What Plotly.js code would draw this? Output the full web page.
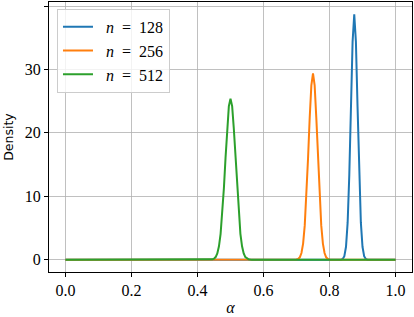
<!DOCTYPE html>
<html>
<head>
<meta charset="utf-8">
<script src="https://cdn.plot.ly/plotly-3.0.1.min.js"></script>
<style>html,body{margin:0;padding:0;background:#fff}#chart{width:414px;height:317px}</style>
</head>
<body>
<div id="chart"></div>
<script>
// n = 128
const x128 = [0, 0.835, 0.84, 0.845, 0.85, 0.855, 0.86, 0.865, 0.87, 0.875, 0.88, 0.885, 0.89, 0.895, 0.90, 0.905, 0.91, 0.915, 1];
const y128 = [0, 0, 0.12, 0.56, 2.04, 5.88, 13.4, 24.1, 34.4, 38.7, 34.4, 24.1, 13.4, 5.88, 2.04, 0.56, 0.12, 0, 0];
// n = 256
const x256 = [0, 0.695, 0.70, 0.705, 0.71, 0.715, 0.72, 0.725, 0.73, 0.735, 0.74, 0.745, 0.75, 0.755, 0.76, 0.765, 0.77, 0.775, 0.78, 0.785, 0.79, 0.795, 0.80, 0.805, 1];
const y256 = [0, 0, 0.03, 0.12, 0.38, 1.06, 2.55, 5.41, 9.94, 16.0, 22.4, 27.5, 29.4, 27.5, 22.4, 16.0, 9.94, 5.41, 2.55, 1.06, 0.38, 0.12, 0.03, 0, 0];
// n = 512
const x512 = [0, 0.435, 0.44, 0.445, 0.45, 0.455, 0.46, 0.465, 0.47, 0.475, 0.48, 0.485, 0.49, 0.495, 0.50, 0.505, 0.51, 0.515, 0.52, 0.525, 0.53, 0.535, 0.54, 0.545, 0.55, 0.555, 0.56, 0.565, 1];
const y512 = [0, 0, 0.02, 0.06, 0.16, 0.42, 0.99, 2.12, 4.09, 7.16, 11.3, 16.1, 20.7, 24.2, 25.4, 24.2, 20.7, 16.1, 11.3, 7.16, 4.09, 2.12, 0.99, 0.42, 0.16, 0.06, 0.02, 0, 0];

const seriesNames = ['&nbsp;&nbsp;<i>n</i>&nbsp;&nbsp;=&nbsp;&nbsp;128', '&nbsp;&nbsp;<i>n</i>&nbsp;&nbsp;=&nbsp;&nbsp;256', '&nbsp;&nbsp;<i>n</i>&nbsp;&nbsp;=&nbsp;&nbsp;512'];
const xTicks = [0, 0.2, 0.4, 0.6, 0.8, 1.0];
const xTickText = ['0.0', '0.2', '0.4', '0.6', '0.8', '1.0'];
const yTicks = [0, 10, 20, 30, 40];

const colors = ['#1f77b4', '#ff7f0e', '#2ca02c'];
const xs = [x128, x256, x512];
const ys = [y128, y256, y512];

const traces = xs.map((x, i) => ({
  x: x, y: ys[i], type: 'scatter', mode: 'lines', name: seriesNames[i],
  line: {color: colors[i], width: 2}
}));

const serif = 'Liberation Serif';

const layout = {
  width: 414, height: 317,
  margin: {l: 49, r: 2, t: 2, b: 45},
  paper_bgcolor: '#fff', plot_bgcolor: '#fff',
  font: {family: serif, size: 16, color: '#000'},
  showlegend: true,
  legend: {
    x: 0.022, y: 0.975, xanchor: 'left', yanchor: 'top',
    bgcolor: 'rgba(255,255,255,0.8)', bordercolor: '#cccccc', borderwidth: 1,
    font: {family: serif, size: 16, color: '#000'}
  },
  xaxis: {
    showline: true, mirror: true, linecolor: '#000', linewidth: 1,
    ticks: 'outside', ticklen: 4, tickwidth: 1, tickcolor: '#000',
    showgrid: true, gridcolor: '#b0b0b0', gridwidth: 0.8, zeroline: false,
    tickfont: {family: serif, size: 16, color: '#000'},
    range: [-0.05, 1.05], tickmode: 'array', tickvals: xTicks, ticktext: xTickText,
    title: {text: '<i>α</i>', font: {family: serif, size: 16, color: '#000'}, standoff: 3}
  },
  yaxis: {
    showline: true, mirror: true, linecolor: '#000', linewidth: 1,
    ticks: 'outside', ticklen: 4, tickwidth: 1, tickcolor: '#000',
    showgrid: true, gridcolor: '#b0b0b0', gridwidth: 0.8, zeroline: false,
    tickfont: {family: serif, size: 16, color: '#000'},
    range: [-1.935, 40.64], tickmode: 'array', tickvals: yTicks,
    title: {text: 'Density', font: {family: 'DejaVu Sans', size: 12.5, color: '#000'}, standoff: 8}
  }
};

Plotly.newPlot('chart', traces, layout, {staticPlot: true, displayModeBar: false});
</script>
</body>
</html>
